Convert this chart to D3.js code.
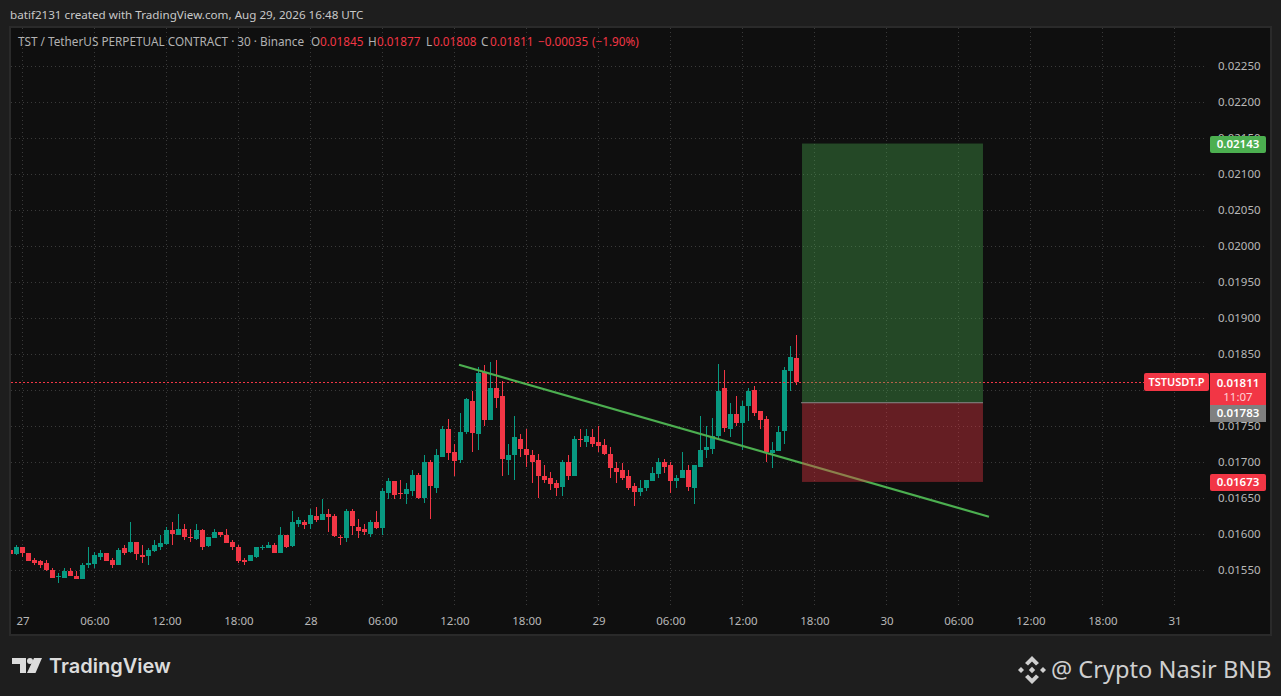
<!DOCTYPE html>
<html>
<head>
<meta charset="utf-8">
<script src="https://cdn.jsdelivr.net/npm/d3@7"></script>
<style>
  html, body { margin: 0; padding: 0; background: #1e1e1e; overflow: hidden; }
  svg { display: block; }
  text { font-family: "Noto Sans", sans-serif; }
</style>
</head>
<body>
<div id="chart"></div>
<script>
// 30 minute candles, oldest first
const opens = [0.01578,0.01572,0.01582,0.01575,0.01564,0.01563,0.01560,0.01551,0.01540,0.01539,0.01549,0.01543,0.01539,0.01558,0.01558,0.01569,0.01575,0.01565,0.01558,0.01581,0.01575,0.01589,0.01572,0.01569,0.01576,0.01583,0.01586,0.01606,0.01600,0.01607,0.01596,0.01594,
  0.01606,0.01583,0.01595,0.01603,0.01599,0.01589,0.01582,0.01564,0.01563,0.01568,0.01581,0.01582,0.01586,0.01575,0.01600,0.01583,0.01614,0.01618,0.01615,0.01625,0.01621,0.01629,0.01625,0.01597,0.01595,0.01632,0.01611,0.01607,0.01601,0.01617,0.01608,
  0.01658,0.01674,0.01657,0.01656,0.01660,0.01683,0.01651,0.01700,0.01665,0.01708,0.01746,0.01714,0.01704,0.01742,0.01785,0.01740,0.01826,0.01760,0.01803,0.01792,0.01704,0.01710,
  0.01732,0.01719,0.01711,0.01703,0.01681,0.01678,0.01672,0.01665,0.01700,0.01681,0.01733,0.01729,0.01736,0.01728,0.01724,0.01712,0.01693,0.01689,0.01681,0.01667,0.01658,0.01664,0.01674,0.01683,
  0.01701,0.01696,0.01674,0.01678,0.01689,0.01665,0.01694,0.01717,0.01719,0.01737,0.01803,0.01747,0.01768,0.01754,0.01779,0.01801,0.01771,0.01760,0.01714,0.01716,0.01743,0.01826,0.01845];
const highs = [0.01579,0.01586,0.01583,0.01575,0.01567,0.01564,0.01564,0.01554,0.01546,0.01553,0.01554,0.01549,0.01561,0.01583,0.01576,0.01578,0.01575,0.01567,0.01581,0.01585,0.01617,0.01590,0.01585,0.01581,0.01592,0.01600,0.01610,0.01618,0.01628,0.01615,0.01608,0.01614,
  0.01607,0.01596,0.01608,0.01604,0.01607,0.01593,0.01585,0.01568,0.01571,0.01583,0.01586,0.01589,0.01588,0.01610,0.01600,0.01633,0.01624,0.01620,0.01635,0.01638,0.01650,0.01635,0.01628,0.01600,0.01635,0.01635,0.01621,0.01614,0.01620,0.01632,0.01665,
  0.01678,0.01674,0.01675,0.01672,0.01689,0.01685,0.01710,0.01703,0.01719,0.01751,0.01760,0.01726,0.01769,0.01789,0.01800,0.01832,0.01835,0.01840,0.01843,0.01813,0.01726,0.01764,
  0.01739,0.01746,0.01718,0.01712,0.01697,0.01687,0.01675,0.01703,0.01710,0.01737,0.01746,0.01746,0.01747,0.01750,0.01732,0.01721,0.01700,0.01699,0.01689,0.01671,0.01676,0.01675,0.01694,0.01706,
  0.01705,0.01700,0.01682,0.01714,0.01696,0.01697,0.01764,0.01750,0.01762,0.01837,0.01828,0.01782,0.01793,0.01785,0.01804,0.01806,0.01772,0.01765,0.01729,0.01751,0.01832,0.01862,0.01877];
const lows = [0.01568,0.01572,0.01569,0.01564,0.01557,0.01554,0.01550,0.01539,0.01533,0.01539,0.01542,0.01538,0.01538,0.01554,0.01553,0.01564,0.01563,0.01553,0.01558,0.01571,0.01575,0.01564,0.01560,0.01558,0.01576,0.01578,0.01586,0.01586,0.01599,0.01592,0.01590,0.01592,
  0.01578,0.01583,0.01595,0.01597,0.01588,0.01579,0.01560,0.01557,0.01563,0.01568,0.01578,0.01582,0.01575,0.01575,0.01581,0.01583,0.01611,0.01608,0.01607,0.01617,0.01621,0.01603,0.01597,0.01586,0.01589,0.01600,0.01595,0.01600,0.01597,0.01607,0.01600,
  0.01650,0.01650,0.01649,0.01642,0.01654,0.01650,0.01644,0.01622,0.01657,0.01708,0.01704,0.01681,0.01699,0.01739,0.01714,0.01717,0.01751,0.01760,0.01776,0.01681,0.01683,0.01676,
  0.01707,0.01694,0.01672,0.01651,0.01671,0.01662,0.01653,0.01653,0.01675,0.01681,0.01721,0.01721,0.01722,0.01714,0.01710,0.01678,0.01672,0.01675,0.01662,0.01639,0.01653,0.01660,0.01674,0.01678,
  0.01685,0.01657,0.01664,0.01678,0.01661,0.01642,0.01694,0.01706,0.01712,0.01733,0.01743,0.01736,0.01751,0.01718,0.01757,0.01764,0.01747,0.01701,0.01693,0.01716,0.01725,0.01800,0.01808];
const closes = [0.01572,0.01582,0.01574,0.01564,0.01560,0.01558,0.01550,0.01540,0.01542,0.01549,0.01542,0.01539,0.01558,0.01561,0.01571,0.01575,0.01564,0.01558,0.01579,0.01574,0.01589,0.01572,0.01569,0.01578,0.01585,0.01588,0.01606,0.01601,0.01608,0.01596,0.01594,0.01606,
  0.01583,0.01596,0.01603,0.01599,0.01588,0.01582,0.01563,0.01561,0.01571,0.01582,0.01583,0.01586,0.01575,0.01600,0.01583,0.01617,0.01620,0.01614,0.01627,0.01620,0.01629,0.01625,0.01597,0.01595,0.01633,0.01611,0.01606,0.01603,0.01617,0.01608,0.01660,
  0.01674,0.01654,0.01656,0.01663,0.01682,0.01651,0.01701,0.01667,0.01711,0.01747,0.01712,0.01701,0.01743,0.01788,0.01740,0.01825,0.01760,0.01804,0.01789,0.01704,0.01711,0.01735,
  0.01718,0.01711,0.01701,0.01681,0.01676,0.01669,0.01665,0.01700,0.01681,0.01733,0.01731,0.01737,0.01726,0.01722,0.01711,0.01692,0.01687,0.01678,0.01665,0.01658,0.01664,0.01675,0.01685,0.01700,
  0.01694,0.01674,0.01678,0.01689,0.01665,0.01697,0.01718,0.01721,0.01737,0.01800,0.01747,0.01768,0.01756,0.01778,0.01800,0.01769,0.01758,0.01714,0.01718,0.01743,0.01828,0.01846,0.01811];

// axis labels
const priceTicks = [0.0155,0.016,0.0165,0.017,0.0175,0.018,0.0185,0.019,0.0195,0.02,0.0205,0.021,0.0215,0.022,0.0225];
const timeIndex = [2,14,26,38,50,62,74,86,98,110,122,134,146,158,170,182,194];
const timeLabels = ["27","06:00","12:00","18:00","28","06:00","12:00","18:00","29","06:00","12:00","18:00","30","06:00","12:00","18:00","31"];

// drawings and price tags
const lastPrice = 0.01811;
const entryPrice = 0.01783;
const targetPrice = 0.02143;
const stopPrice = 0.01673;
const positionIndex = [131.92, 162.08];
const trendIndex = [74.75, 163.08];
const trendPrice = [0.018358, 0.016247];

const width = 1281, height = 696;
const pane = { left: 11, top: 28, right: 1207, bottom: 605 };

const x = d3.scaleLinear().domain([0, 131]).range([10.5, 796.5]);
const y = d3.scaleLinear().domain([0.016, 0.0225]).range([534.5, 66.5]);

const svg = d3.select("#chart").append("svg")
  .attr("width", width)
  .attr("height", height);

svg.append("rect").attr("width", width).attr("height", height).attr("fill", "#1e1e1e");

svg.append("text")
  .attr("x", 10).attr("y", 19)
  .attr("fill", "#c8c8c8").attr("font-size", 11.65)
  .text("batif2131 created with TradingView.com, Aug 29, 2026 16:48 UTC");

// chart frame, no separators between the pane and its axes
svg.append("rect")
  .attr("x", 10).attr("y", 27)
  .attr("width", 1261).attr("height", 608)
  .attr("fill", "#0f0f0f").attr("stroke", "#2a2a2a").attr("stroke-width", 2);

const clip = svg.append("defs").append("clipPath").attr("id", "pane");
clip.append("rect").attr("x", pane.left).attr("y", pane.top)
  .attr("width", pane.right - pane.left).attr("height", pane.bottom - pane.top);

const plot = svg.append("g").attr("clip-path", "url(#pane)");

// grid
plot.selectAll(".hgrid").data(priceTicks).enter().append("line")
  .attr("x1", pane.left).attr("x2", pane.right)
  .attr("y1", d => y(d)).attr("y2", d => y(d))
  .attr("stroke", "#3a3a3a").attr("stroke-dasharray", "1,3");
plot.selectAll(".vgrid").data(timeIndex).enter().append("line")
  .attr("x1", d => x(d)).attr("x2", d => x(d))
  .attr("y1", pane.top).attr("y2", pane.bottom)
  .attr("stroke", "#3a3a3a").attr("stroke-dasharray", "1,3");

// candles
const candles = opens.map((o, i) => ({ i, o, h: highs[i], l: lows[i], c: closes[i] }));
const colour = d => d.c >= d.o ? "#089981" : "#f23645";

plot.selectAll(".wick").data(candles).enter().append("line")
  .attr("class", "wick")
  .attr("x1", d => x(d.i)).attr("x2", d => x(d.i))
  .attr("y1", d => Math.round(y(d.h))).attr("y2", d => Math.round(y(d.l)))
  .attr("stroke", colour).attr("stroke-width", 1);

plot.selectAll(".body").data(candles).enter().append("rect")
  .attr("class", "body")
  .attr("x", d => x(d.i) - 2.5)
  .attr("y", d => Math.round(y(Math.max(d.o, d.c))))
  .attr("width", 5)
  .attr("height", d => Math.max(1, Math.round(Math.abs(y(d.o) - y(d.c)))))
  .attr("fill", colour);

// last price line, snapped to a pixel row so the dots stay red
const lastY = Math.floor(y(lastPrice)) + 0.5;
plot.append("line")
  .attr("x1", pane.left).attr("x2", 1144)
  .attr("y1", lastY).attr("y2", lastY)
  .attr("stroke", "#f23645").attr("stroke-dasharray", "2,2");

// trend line sits under the position box
plot.append("line")
  .attr("x1", x(trendIndex[0])).attr("y1", y(trendPrice[0]))
  .attr("x2", x(trendIndex[1])).attr("y2", y(trendPrice[1]))
  .attr("stroke", "#4caf50").attr("stroke-width", 2.2);

// long position box
const boxX = x(positionIndex[0]), boxW = x(positionIndex[1]) - boxX;
plot.append("rect").attr("x", boxX).attr("y", y(targetPrice))
  .attr("width", boxW).attr("height", y(entryPrice) - y(targetPrice))
  .attr("fill", "#4caf50").attr("fill-opacity", 0.36);
plot.append("rect").attr("x", boxX).attr("y", y(entryPrice))
  .attr("width", boxW).attr("height", y(stopPrice) - y(entryPrice))
  .attr("fill", "#f23645").attr("fill-opacity", 0.38);
plot.append("line").attr("x1", boxX - 1).attr("x2", boxX + boxW)
  .attr("y1", y(entryPrice)).attr("y2", y(entryPrice))
  .attr("stroke", "#8a8a8a");

// price axis
const yAxis = svg.append("g")
  .attr("transform", `translate(${pane.right + 2},0)`)
  .call(d3.axisRight(y).tickValues(priceTicks).tickFormat(d3.format(".5f")).tickSize(0).tickPadding(9));
yAxis.select(".domain").remove();
yAxis.selectAll("text").attr("fill", "#b8b8b8").attr("font-size", 11.5).attr("dy", "0.22em").attr("font-family", "Noto Sans");

// time axis
const xAxis = svg.append("g")
  .attr("transform", `translate(0,${pane.bottom + 2})`)
  .call(d3.axisBottom(x).tickValues(timeIndex).tickFormat((d, i) => timeLabels[i]).tickSize(0).tickPadding(10));
xAxis.select(".domain").remove();
xAxis.selectAll("text").attr("fill", "#b8b8b8").attr("font-size", 11.5).attr("font-family", "Noto Sans");

// legend
const legend = svg.append("text").attr("y", 46).attr("font-size", 11.75);
const legendParts = [
  [18, "#b2b2b2", "TST / TetherUS PERPETUAL CONTRACT · 30 · Binance"],
  [311, "#b2b2b2", "O"], [320, "#f23645", "0.01845"],
  [368, "#b2b2b2", "H"], [377, "#f23645", "0.01877"],
  [426, "#b2b2b2", "L"], [433, "#f23645", "0.01808"],
  [481, "#b2b2b2", "C"], [490, "#f23645", "0.01811"],
  [538, "#f23645", "−0.00035"], [592, "#f23645", "(−1.90%)"]
];
legendParts.forEach(p => legend.append("tspan").attr("x", p[0]).attr("fill", p[1]).text(p[2]));

// price tags
function tag(top, h, fill, rx) {
  svg.append("rect").attr("x", 1210).attr("y", top).attr("width", 56).attr("height", h).attr("rx", rx).attr("fill", fill);
}
function tagText(cy, label, fill) {
  svg.append("text").attr("x", 1238).attr("y", cy + 4).attr("text-anchor", "middle")
    .attr("fill", fill).attr("font-size", 11.5).attr("font-weight", 600).text(label);
}
tag(Math.round(y(targetPrice)) - 8, 17, "#4caf50", 2);
tagText(y(targetPrice), "0.02143", "#fff");
tag(Math.round(y(stopPrice)) - 8, 17, "#f23645", 2);
tagText(y(stopPrice), "0.01673", "#fff");

// last price block pushes the entry tag down underneath it
tag(Math.round(lastY) - 10, 32, "#f23645", 0);
tagText(lastY, "0.01811", "#fff");
svg.append("text").attr("x", 1238).attr("y", lastY + 18).attr("text-anchor", "middle")
  .attr("fill", "#ffd0d5").attr("font-size", 11.5).text("11:07");
tag(Math.round(lastY) + 22, 17, "#808080", 0);
tagText(lastY + 30.5, "0.01783", "#fff");

svg.append("rect").attr("x", 1144).attr("y", Math.round(lastY) - 10).attr("width", 65).attr("height", 18).attr("rx", 2).attr("fill", "#f23645");
svg.append("text").attr("x", 1176.5).attr("y", lastY + 3.5).attr("text-anchor", "middle")
  .attr("fill", "#fff").attr("font-size", 11).attr("font-weight", 600).text("TSTUSDT.P");

// footer: TradingView mark
const logo = svg.append("g").attr("transform", "translate(12,658)").attr("fill", "#dcdcdc");
logo.append("path").attr("d", "M0 0H14V15H8V6H0Z");
logo.append("circle").attr("cx", 18).attr("cy", 3).attr("r", 3);
logo.append("path").attr("d", "M22 0H30L23.5 15H15Z");
svg.append("text").attr("x", 49).attr("y", 673).attr("fill", "#dcdcdc")
  .attr("font-size", 20).attr("font-weight", 600).style("font-family", "Inter").text("TradingView");

// footer: Binance square mark
const bnb = svg.append("g").attr("transform", "translate(1032,670)").attr("fill", "#cfcfcf");
bnb.selectAll("path").data([
  "M0 -14L7 -7L4 -4.5L0 -8.5L-4 -4.5L-7 -7Z",
  "M0 14L7 7L4 4.5L0 8.5L-4 4.5L-7 7Z",
  "M0 -3.2L3.2 0L0 3.2L-3.2 0Z",
  "M-14 0L-11 -3L-8 0L-11 3Z",
  "M14 0L11 -3L8 0L11 3Z"
]).enter().append("path").attr("d", d => d);
svg.append("text").attr("x", 1051).attr("y", 677.5).attr("fill", "#cfcfcf")
  .attr("font-size", 23.6).text("@ Crypto Nasir BNB");
</script>
</body>
</html>
